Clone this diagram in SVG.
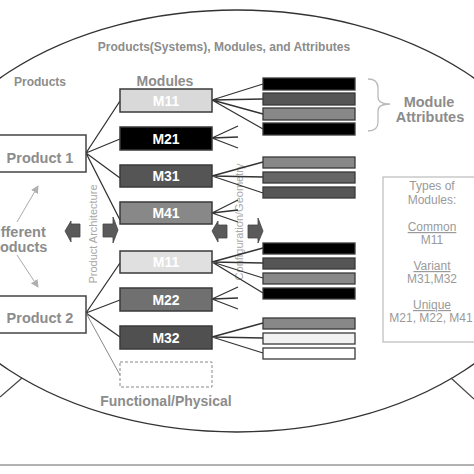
<svg xmlns="http://www.w3.org/2000/svg" width="474" height="474" viewBox="0 0 474 474">
<defs>
<style>
.lbl{font-family:"Liberation Sans",Arial,sans-serif;font-weight:bold;fill:#8c8c8c}
.mod{stroke:#3a3a3a;stroke-width:1.5}
.mt{font-family:"Liberation Sans",Arial,sans-serif;font-weight:bold;font-size:14px;fill:#fff;text-anchor:middle}
.bar{stroke:#3a3a3a;stroke-width:1.3}
.ln{stroke:#333;stroke-width:1.3;fill:none}
.thin{stroke:#aaa;stroke-width:1;fill:none}
.tt{font-family:"Liberation Sans",Arial,sans-serif;font-size:12px;fill:#9a9a9a;text-anchor:middle}
.vt{font-family:"Liberation Sans",Arial,sans-serif;font-size:11px;fill:#a8a8a8;text-anchor:middle}
.blk{fill:#5a5a5a;stroke:#444;stroke-width:0.8}
</style>
<marker id="ga" markerWidth="8" markerHeight="8" refX="7" refY="4" orient="auto" markerUnits="userSpaceOnUse">
<path d="M0,0 L8,4 L0,8 Z" fill="#b0b0b0"/>
</marker>
</defs>
<rect width="474" height="474" fill="#fff"/>
<g id="frame">
<ellipse cx="237" cy="221" rx="322" ry="211" fill="none" stroke="#333" stroke-width="1.3"/>
<line x1="22" y1="378" x2="0" y2="397" stroke="#444" stroke-width="1.2"/>
<line x1="451" y1="378" x2="474" y2="399" stroke="#444" stroke-width="1.2"/>
<line x1="0" y1="465" x2="474" y2="465" stroke="#999" stroke-width="1.5"/>
</g>
<g id="titles">
<text class="lbl" x="224" y="51" font-size="12" text-anchor="middle">Products(Systems), Modules, and Attributes</text>
<text class="lbl" x="14" y="86" font-size="12">Products</text>
<text class="lbl" x="165" y="86" font-size="14" text-anchor="middle">Modules</text>
<text class="lbl" x="166" y="406" font-size="14" text-anchor="middle">Functional/Physical</text>
<text class="vt" transform="translate(97,234) rotate(-90)">Product Architecture</text>
<text class="vt" transform="translate(243,222) rotate(-90)">Configuration/Geometry</text>
</g>
<g id="connectors">
<path class="ln" d="M86,153 L120,101 M86,153 L120,139 M86,153 L120,178 M86,153 L120,220"/>
<path class="ln" d="M86,313 L120,263 M86,313 L120,300 M86,313 L120,337"/>
<path d="M86,313 L120,375" stroke="#888" stroke-width="1" fill="none"/>
<path class="ln" d="M212,100 L263,84 M212,100 L263,99 M212,100 L263,114 M212,100 L263,129"/>
<path class="ln" d="M212,138 L238,126 M212,138 L238,137 M212,138 L238,148"/>
<path class="ln" d="M212,176 L263,162 M212,176 L263,177 M212,176 L263,193"/>
<path class="ln" d="M212,213 L238,200 M212,213 L238,210 M212,213 L238,222"/>
<path class="ln" d="M212,262 L263,248 M212,262 L263,263 M212,262 L263,278 M212,262 L263,293"/>
<path class="ln" d="M212,299 L238,287 M212,299 L238,298 M212,299 L238,309"/>
<path class="ln" d="M212,337 L263,323 M212,337 L263,338 M212,337 L263,353"/>
<path class="thin" d="M17,222 L38,186" marker-end="url(#ga)"/>
<path class="thin" d="M17,255 L38,287" marker-end="url(#ga)"/>
</g>
<g id="product1">
<rect x="-2" y="135" width="88" height="37" fill="#fff" stroke="#444" stroke-width="1.5"/>
<text class="lbl" x="40" y="163" font-size="14.5" text-anchor="middle">Product 1</text>
</g>
<g id="product2">
<rect x="-2" y="296" width="88" height="37" fill="#fff" stroke="#444" stroke-width="1.5"/>
<text class="lbl" x="40" y="323" font-size="14.5" text-anchor="middle">Product 2</text>
</g>
<g id="different">
<text class="lbl" x="16" y="237" font-size="14.5" text-anchor="middle">Different</text>
<text class="lbl" x="16" y="252" font-size="14.5" text-anchor="middle">Products</text>
</g>
<g id="arrows">
<polygon class="blk" points="80,224 71,224 71,221 65,231 71,242 71,237 80,237"/>
<polygon class="blk" points="103,224 113,224 113,217 118,230 113,243 113,237 103,237"/>
<polygon class="blk" points="227,225 218,225 218,221 212,231 218,242 218,238 227,238"/>
<polygon class="blk" points="248,225 258,225 258,218 263,231 258,243 258,238 248,238"/>
</g>
<g id="m11a"><rect class="mod" x="120" y="89" width="92" height="23" fill="#d9d9d9"/><text class="mt" x="166" y="106">M11</text></g>
<g id="m21"><rect class="mod" x="120" y="127" width="92" height="23" fill="#000"/><text class="mt" x="166" y="144">M21</text></g>
<g id="m31"><rect class="mod" x="120" y="165" width="92" height="22" fill="#555"/><text class="mt" x="166" y="181">M31</text></g>
<g id="m41"><rect class="mod" x="120" y="202" width="92" height="22" fill="#888"/><text class="mt" x="166" y="218">M41</text></g>
<g id="m11b"><rect class="mod" x="120" y="251" width="92" height="22" fill="#e0e0e0"/><text class="mt" x="166" y="267">M11</text></g>
<g id="m22"><rect class="mod" x="120" y="288" width="92" height="23" fill="#707070"/><text class="mt" x="166" y="305">M22</text></g>
<g id="m32"><rect class="mod" x="120" y="326" width="92" height="23" fill="#505050"/><text class="mt" x="166" y="343">M32</text></g>
<g id="mdashed"><rect x="120" y="362" width="92" height="25" fill="#fff" stroke="#888" stroke-width="1" stroke-dasharray="3,2"/></g>
<g id="attrs">
<rect class="bar" x="263" y="78" width="92" height="12" fill="#000"/>
<rect class="bar" x="263" y="93" width="92" height="12" fill="#555"/>
<rect class="bar" x="263" y="108" width="92" height="12" fill="#888"/>
<rect class="bar" x="263" y="123" width="92" height="12" fill="#000"/>
<rect class="bar" x="263" y="157" width="92" height="11" fill="#888"/>
<rect class="bar" x="263" y="172" width="92" height="11" fill="#666"/>
<rect class="bar" x="263" y="187" width="92" height="11" fill="#555"/>
<rect class="bar" x="263" y="243" width="92" height="11" fill="#000"/>
<rect class="bar" x="263" y="258" width="92" height="11" fill="#555"/>
<rect class="bar" x="263" y="273" width="92" height="11" fill="#888"/>
<rect class="bar" x="263" y="288" width="92" height="11" fill="#000"/>
<rect class="bar" x="263" y="318" width="92" height="11" fill="#888"/>
<rect class="bar" x="263" y="333" width="92" height="11" fill="#f2f2f2"/>
<rect class="bar" x="263" y="348" width="92" height="11" fill="#fff"/>
</g>
<g id="moduleAttributes">
<path d="M368,79 Q378,79 378,88 L378,97 Q378,104 390,104 Q378,104 378,111 L378,122 Q378,131 368,131" fill="none" stroke="#bbb" stroke-width="1.3"/>
<text class="lbl" x="429" y="107" font-size="14.5" text-anchor="middle">Module</text>
<text class="lbl" x="430" y="122" font-size="14.5" text-anchor="middle">Attributes</text>
</g>
<g id="types">
<rect x="383" y="177" width="100" height="165" fill="#fff" stroke="#bbb" stroke-width="1.2"/>
<text class="tt" x="432" y="190">Types of</text>
<text class="tt" x="432" y="204">Modules:</text>
<text class="tt" x="432" y="231" text-decoration="underline">Common</text>
<text class="tt" x="432" y="244">M11</text>
<text class="tt" x="432" y="270" text-decoration="underline">Variant</text>
<text class="tt" x="432" y="283">M31,M32</text>
<text class="tt" x="432" y="309" text-decoration="underline">Unique</text>
<text class="tt" x="431" y="322">M21, M22, M41</text>
</g>
</svg>
